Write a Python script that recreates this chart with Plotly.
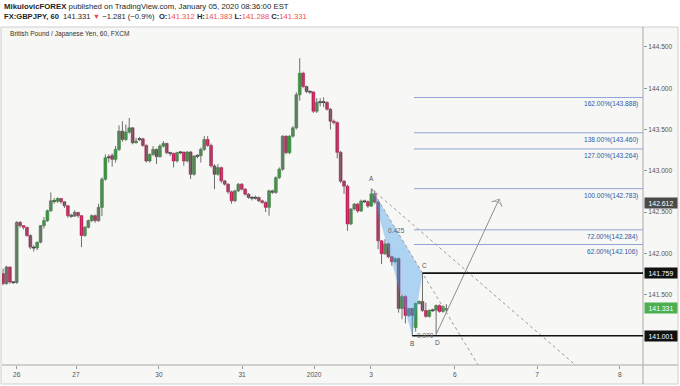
import plotly.graph_objects as go

# ---------------- data ----------------
opens = [141.753, 141.632, 141.833, 141.652, 141.645, 142.375, 142.335, 142.315, 142.215, 142.074,
         142.064, 142.134, 142.335, 142.395, 142.516, 142.636, 142.630, 142.664, 142.624, 142.576,
         142.456, 142.450, 142.496, 142.456, 142.215, 142.315, 142.395, 142.456, 142.395, 142.556,
         142.897, 143.158, 143.186, 143.138, 143.259, 143.480, 143.379, 143.468, 143.520, 143.339,
         143.380, 143.387, 143.307, 143.118, 143.198, 143.259, 143.170, 143.299, 143.331, 143.219,
         143.210, 143.118, 143.219, 143.227, 143.118, 143.227, 142.957, 143.178, 143.182, 143.259,
         143.379, 143.307, 143.058, 142.957, 143.038, 142.877, 142.837, 142.745, 142.636, 142.757,
         142.837, 142.777, 142.716, 142.676, 142.668, 142.676, 142.636, 142.616, 142.556, 142.757,
         142.737, 142.917, 143.018, 143.419, 143.219, 143.419, 143.520, 143.921, 144.182, 144.022,
         143.961, 143.955, 143.721, 143.829, 143.835, 143.829, 143.745, 143.600, 143.584, 143.223,
         142.873, 142.813, 142.355, 142.536, 142.596, 142.512, 142.633, 142.625, 142.572, 142.720,
         142.620, 142.151, 141.994, 142.114, 141.958, 141.898, 141.934, 141.331, 141.476, 141.247,
         141.331, 141.100, 141.392, 141.416, 141.307, 141.235, 141.307, 141.310, 141.367, 141.295,
         141.312]
highs = [141.813, 141.850, 141.840, 141.660, 142.390, 142.390, 142.340, 142.320, 142.230, 142.100,
         142.140, 142.340, 142.440, 142.530, 142.737, 142.670, 142.680, 142.670, 142.630, 142.580,
         142.480, 142.520, 142.500, 142.460, 142.330, 142.410, 142.470, 142.470, 142.600, 142.920,
         143.200, 143.200, 143.210, 143.300, 143.550, 143.600, 143.560, 143.640, 143.530, 143.400,
         143.410, 143.400, 143.320, 143.210, 143.300, 143.270, 143.320, 143.360, 143.340, 143.230,
         143.220, 143.230, 143.240, 143.230, 143.240, 143.240, 143.190, 143.200, 143.280, 143.420,
         143.420, 143.330, 143.080, 143.080, 143.050, 142.890, 142.850, 142.760, 142.770, 142.850,
         142.850, 142.790, 142.730, 142.690, 142.700, 142.690, 142.650, 142.630, 142.770, 142.770,
         142.930, 143.040, 143.430, 143.430, 143.430, 143.540, 143.950, 144.363, 144.200, 144.030,
         143.970, 143.960, 143.880, 143.880, 143.890, 143.840, 143.760, 143.620, 143.600, 143.240,
         142.890, 142.830, 142.550, 142.610, 142.610, 142.650, 142.650, 142.640, 142.783, 142.760,
         142.630, 142.160, 142.170, 142.130, 141.970, 141.950, 141.950, 141.500, 141.490, 141.340,
         141.340, 141.400, 141.430, 141.759, 141.400, 141.320, 141.330, 141.380, 141.380, 141.370,
         141.383]
lows = [141.612, 141.620, 141.630, 141.630, 141.630, 142.310, 142.290, 142.200, 142.050, 142.020,
        142.040, 142.120, 142.300, 142.380, 142.500, 142.600, 142.610, 142.600, 142.550, 142.430,
        142.430, 142.440, 142.430, 142.074, 142.200, 142.300, 142.380, 142.370, 142.380, 142.450,
        142.880, 143.100, 143.050, 143.100, 143.240, 143.350, 143.360, 143.450, 143.320, 143.330,
        143.360, 143.290, 143.100, 143.100, 143.180, 143.080, 143.160, 143.280, 143.200, 143.180,
        143.040, 143.100, 143.200, 143.060, 143.100, 142.900, 142.940, 143.150, 143.100, 143.240,
        143.290, 143.040, 142.777, 142.940, 142.850, 142.820, 142.720, 142.600, 142.620, 142.740,
        142.760, 142.700, 142.660, 142.640, 142.650, 142.620, 142.600, 142.500, 142.455, 142.720,
        142.720, 142.900, 143.000, 143.200, 143.200, 143.400, 143.500, 143.850, 144.000, 143.940,
        143.930, 143.700, 143.700, 143.780, 143.770, 143.730, 143.500, 143.560, 143.150, 142.850,
        142.720, 142.271, 142.340, 142.520, 142.490, 142.500, 142.610, 142.550, 142.560, 142.600,
        142.050, 141.870, 141.980, 141.940, 141.850, 141.880, 141.280, 141.200, 141.150, 141.230,
        141.001, 141.050, 141.380, 141.290, 141.220, 141.220, 141.290, 141.017, 141.280, 141.280,
        141.288]
closes = [141.632, 141.833, 141.652, 141.645, 142.375, 142.335, 142.315, 142.215, 142.074, 142.064,
          142.134, 142.335, 142.395, 142.516, 142.636, 142.630, 142.664, 142.624, 142.576, 142.456,
          142.450, 142.496, 142.456, 142.215, 142.315, 142.395, 142.456, 142.395, 142.556, 142.897,
          143.158, 143.168, 143.138, 143.259, 143.480, 143.379, 143.468, 143.520, 143.339, 143.360,
          143.387, 143.307, 143.118, 143.198, 143.259, 143.170, 143.299, 143.331, 143.219, 143.210,
          143.118, 143.219, 143.227, 143.118, 143.227, 142.957, 143.178, 143.182, 143.259, 143.379,
          143.307, 143.058, 142.957, 143.038, 142.877, 142.837, 142.745, 142.636, 142.757, 142.837,
          142.777, 142.716, 142.676, 142.668, 142.676, 142.636, 142.616, 142.556, 142.757, 142.737,
          142.917, 143.018, 143.419, 143.219, 143.419, 143.520, 143.921, 144.182, 144.022, 143.961,
          143.955, 143.721, 143.829, 143.835, 143.829, 143.745, 143.600, 143.584, 143.223, 142.873,
          142.813, 142.355, 142.536, 142.596, 142.512, 142.633, 142.625, 142.572, 142.720, 142.620,
          142.151, 141.994, 142.114, 141.958, 141.898, 141.934, 141.331, 141.476, 141.247, 141.331,
          141.247, 141.392, 141.416, 141.307, 141.235, 141.307, 141.310, 141.367, 141.295, 141.355,
          141.331]

tick_bars = [4, 21.4, 45.7, 70.1, 91.2, 107.9, 132.5, 156.6, 180.9]
tick_labels = ["26", "27", "30", "31", "2020", "3", "6", "7", "8"]
price_ticks = [141.5, 142.0, 142.5, 143.0, 143.5, 144.0, 144.5]

pattern_labels = ["A", "B", "C", "D"]
pattern_bars = [108, 120, 123, 127]
pattern_prices = [142.783, 141.001, 141.759, 141.017]
pattern_ratios = ["0.425", "0.979"]

fib_ratios = [1.62, 1.38, 1.27, 1.00, 0.72, 0.62]

trend_bars = [108, 175]
trend_prices = [142.783, 140.39]
ac_extend_bar = 142

arrow_bars = [127, 145.5]
arrow_prices = [141.017, 142.657]

tag_prices = [142.612, 141.759, 141.331, 141.001]

day_change = "−1.281 (−0.9%)"
header_line1 = "published on TradingView.com, January 05, 2020 08:36:00 EST"
author = "MikulovicFOREX"
symbol = "FX:GBPJPY, 60"
title_text = "British Pound / Japanese Yen, 60, FXCM"

# ---------------- styling ----------------
FONT = "Liberation Sans, Arial, sans-serif"
UP_FILL, UP_EDGE = "#3fa346", "#2a6e2f"
DN_FILL, DN_EDGE = "#d4175a", "#9c1242"
DOJI = "#222222"
WICK = "#6e6e6e"
tag_styles = ["#4a4a4a", "#111111", "#4caf50", "#111111"]

X_RANGE = [-0.311, 187.67]
Y_RANGE = [140.646, 144.742]
W, H = 680, 386
ML, MR, MT, MB = 2, 37, 27, 21
PW, PH = W - ML - MR, H - MT - MB


def px_x(px):
    return (px - ML) / PW


def px_y(py):
    return (H - MB - py) / PH


n = len(closes)
idx = list(range(n))

fig = go.Figure()

# wicks
wx, wy = [], []
for i in idx:
    wx += [i, i, None]
    wy += [lows[i], highs[i], None]
fig.add_trace(go.Scatter(x=wx, y=wy, mode="lines", line=dict(color=WICK, width=1),
                         hoverinfo="skip"))

# bodies
bases, heights, fills, edges = [], [], [], []
for i in idx:
    o, c = opens[i], closes[i]
    lo, hi = min(o, c), max(o, c)
    if hi - lo < 0.012:
        mid = (hi + lo) / 2
        bases.append(mid - 0.007)
        heights.append(0.014)
        fills.append(DOJI)
        edges.append(DOJI)
    else:
        bases.append(lo)
        heights.append(hi - lo)
        fills.append(UP_FILL if c > o else DN_FILL)
        edges.append(UP_EDGE if c > o else DN_EDGE)
fig.add_trace(go.Bar(x=idx, y=heights, base=bases, width=0.84,
                     marker=dict(color=fills, line=dict(color=edges, width=0.5)),
                     hoverinfo="skip"))

# ABC shaded triangle
fig.add_trace(go.Scatter(x=[pattern_bars[0], pattern_bars[1], pattern_bars[2], pattern_bars[0]],
                         y=[pattern_prices[0], pattern_prices[1], pattern_prices[2], pattern_prices[0]],
                         mode="lines", fill="toself", fillcolor="rgba(66,155,235,0.40)",
                         line=dict(width=0, color="rgba(66,155,235,0.4)"), hoverinfo="skip"))

# dotted trend lines
fig.add_trace(go.Scatter(x=trend_bars, y=trend_prices, mode="lines",
                         line=dict(color="#9a9a9a", width=1, dash="dot"), hoverinfo="skip"))
slope = (pattern_prices[2] - pattern_prices[0]) / (pattern_bars[2] - pattern_bars[0])
fig.add_trace(go.Scatter(x=[pattern_bars[0], ac_extend_bar],
                         y=[pattern_prices[0], pattern_prices[0] + slope * (ac_extend_bar - pattern_bars[0])],
                         mode="lines", line=dict(color="#9a9a9a", width=1, dash="dot"), hoverinfo="skip"))

# arrow
fig.add_trace(go.Scatter(x=arrow_bars, y=arrow_prices, mode="lines+markers",
                         line=dict(color="#8e8e8e", width=1),
                         marker=dict(symbol="arrow-wide-open", size=[0, 8], angleref="previous",
                                     color="#8e8e8e", line=dict(color="#8e8e8e", width=1)),
                         hoverinfo="skip"))

shapes = []
annotations = []

# pane frame
shapes.append(dict(type="rect", xref="paper", yref="paper", x0=px_x(1), x1=px_x(678),
                   y0=px_y(384), y1=px_y(27), fillcolor="#f7f7f5",
                   line=dict(color="#cfcfcf", width=1), layer="below"))
shapes.append(dict(type="line", xref="paper", yref="paper", x0=1, x1=1,
                   y0=px_y(384), y1=px_y(27), line=dict(color="#a8a8a8", width=1)))
shapes.append(dict(type="line", xref="paper", yref="paper", x0=0, x1=px_x(678),
                   y0=0, y1=0, line=dict(color="#a8a8a8", width=1)))

# fib levels from B to A
rng = pattern_prices[0] - pattern_prices[1]
for r in fib_ratios:
    lvl = pattern_prices[1] + r * rng
    shapes.append(dict(type="line", xref="x", yref="y", x0=pattern_bars[1] + 0.5, x1=X_RANGE[1],
                       y0=lvl, y1=lvl, line=dict(color="#8ea4d6", width=1)))
    annotations.append(dict(xref="paper", yref="y", x=px_x(640), y=lvl, xanchor="right",
                            yanchor="top", yshift=-1, showarrow=False,
                            text=f"{r*100:.2f}%({lvl:.3f})",
                            font=dict(family=FONT, size=6.6, color="#2b59a6")))

# black horizontal lines at C and B
for k in (2, 1):
    shapes.append(dict(type="line", xref="x", yref="y", x0=pattern_bars[k], x1=X_RANGE[1],
                       y0=pattern_prices[k], y1=pattern_prices[k],
                       line=dict(color="#111111", width=1.6)))

# pattern labels
label_shift = [10, -8, 8, -8]
for lab, b, p, s in zip(pattern_labels, pattern_bars, pattern_prices, label_shift):
    annotations.append(dict(x=b + (0.5 if lab in "CD" else 0), y=p, xref="x", yref="y",
                            text=lab, showarrow=False, yshift=s,
                            font=dict(family=FONT, size=6.5, color="#555555")))
annotations.append(dict(x=(pattern_bars[0] + pattern_bars[2]) / 2,
                        y=(pattern_prices[0] + pattern_prices[2]) / 2, xref="x", yref="y",
                        text=pattern_ratios[0], showarrow=False,
                        font=dict(family=FONT, size=6.5, color="#666666")))
annotations.append(dict(x=(pattern_bars[1] + pattern_bars[3]) / 2 + 0.5,
                        y=(pattern_prices[1] + pattern_prices[3]) / 2, xref="x", yref="y",
                        text=pattern_ratios[1], showarrow=False,
                        font=dict(family=FONT, size=6.5, color="#666666")))

# price tags on right axis
for p, col in zip(tag_prices, tag_styles):
    annotations.append(dict(xref="paper", yref="y", x=1, y=p, xanchor="left", xshift=1,
                            text=f"{p:.3f}", showarrow=False, bgcolor=col, width=32, height=10,
                            align="center", borderpad=0,
                            font=dict(family=FONT, size=6.8, color="#ffffff")))

# header
red = "#ef4f4f"
annotations.append(dict(xref="paper", yref="paper", x=px_x(2), y=px_y(6), xanchor="left",
                        yanchor="middle", showarrow=False,
                        text=f"<b>{author}</b> {header_line1}",
                        font=dict(family=FONT, size=7.8, color="#1e1e1e")))
hdr2 = (f"<b>{symbol}</b>  {closes[-1]:.3f} <span style='color:{red}'>▼</span> {day_change}  "
        f"<b>O:</b><span style='color:{red}'>{opens[-1]:.3f}</span> "
        f"<b>H:</b><span style='color:{red}'>{highs[-1]:.3f}</span> "
        f"<b>L:</b><span style='color:{red}'>{lows[-1]:.3f}</span> "
        f"<b>C:</b><span style='color:{red}'>{closes[-1]:.3f}</span>")
annotations.append(dict(xref="paper", yref="paper", x=px_x(2), y=px_y(16.5), xanchor="left",
                        yanchor="middle", showarrow=False, text=hdr2,
                        font=dict(family=FONT, size=7.6, color="#1e1e1e")))
annotations.append(dict(xref="paper", yref="paper", x=px_x(8), y=px_y(34), xanchor="left",
                        yanchor="middle", showarrow=False, text=title_text,
                        font=dict(family=FONT, size=6.6, color="#333333")))

fig.update_layout(
    width=W, height=H, autosize=False,
    margin=dict(l=ML, r=MR, t=MT, b=MB, pad=0),
    paper_bgcolor="#ffffff", plot_bgcolor="rgba(0,0,0,0)",
    showlegend=False, hovermode=False, barmode="overlay",
    shapes=shapes, annotations=annotations,
    xaxis=dict(range=X_RANGE, tickvals=tick_bars, ticktext=tick_labels, showgrid=False,
               zeroline=False, showline=False, ticks="outside", ticklen=3, tickcolor="#9a9a9a",
               tickfont=dict(family=FONT, size=6.6, color="#555555"), fixedrange=True),
    yaxis=dict(range=Y_RANGE, side="right", tickvals=price_ticks, tickformat=".3f",
               showgrid=False, zeroline=False, showline=False, ticks="outside", ticklen=3,
               tickcolor="#9a9a9a", tickfont=dict(family=FONT, size=6.6, color="#555555"),
               fixedrange=True),
)

fig.write_html("out.html", config={"displayModeBar": False},
               post_script="document.body.style.margin='0';document.body.style.overflow='hidden';")
